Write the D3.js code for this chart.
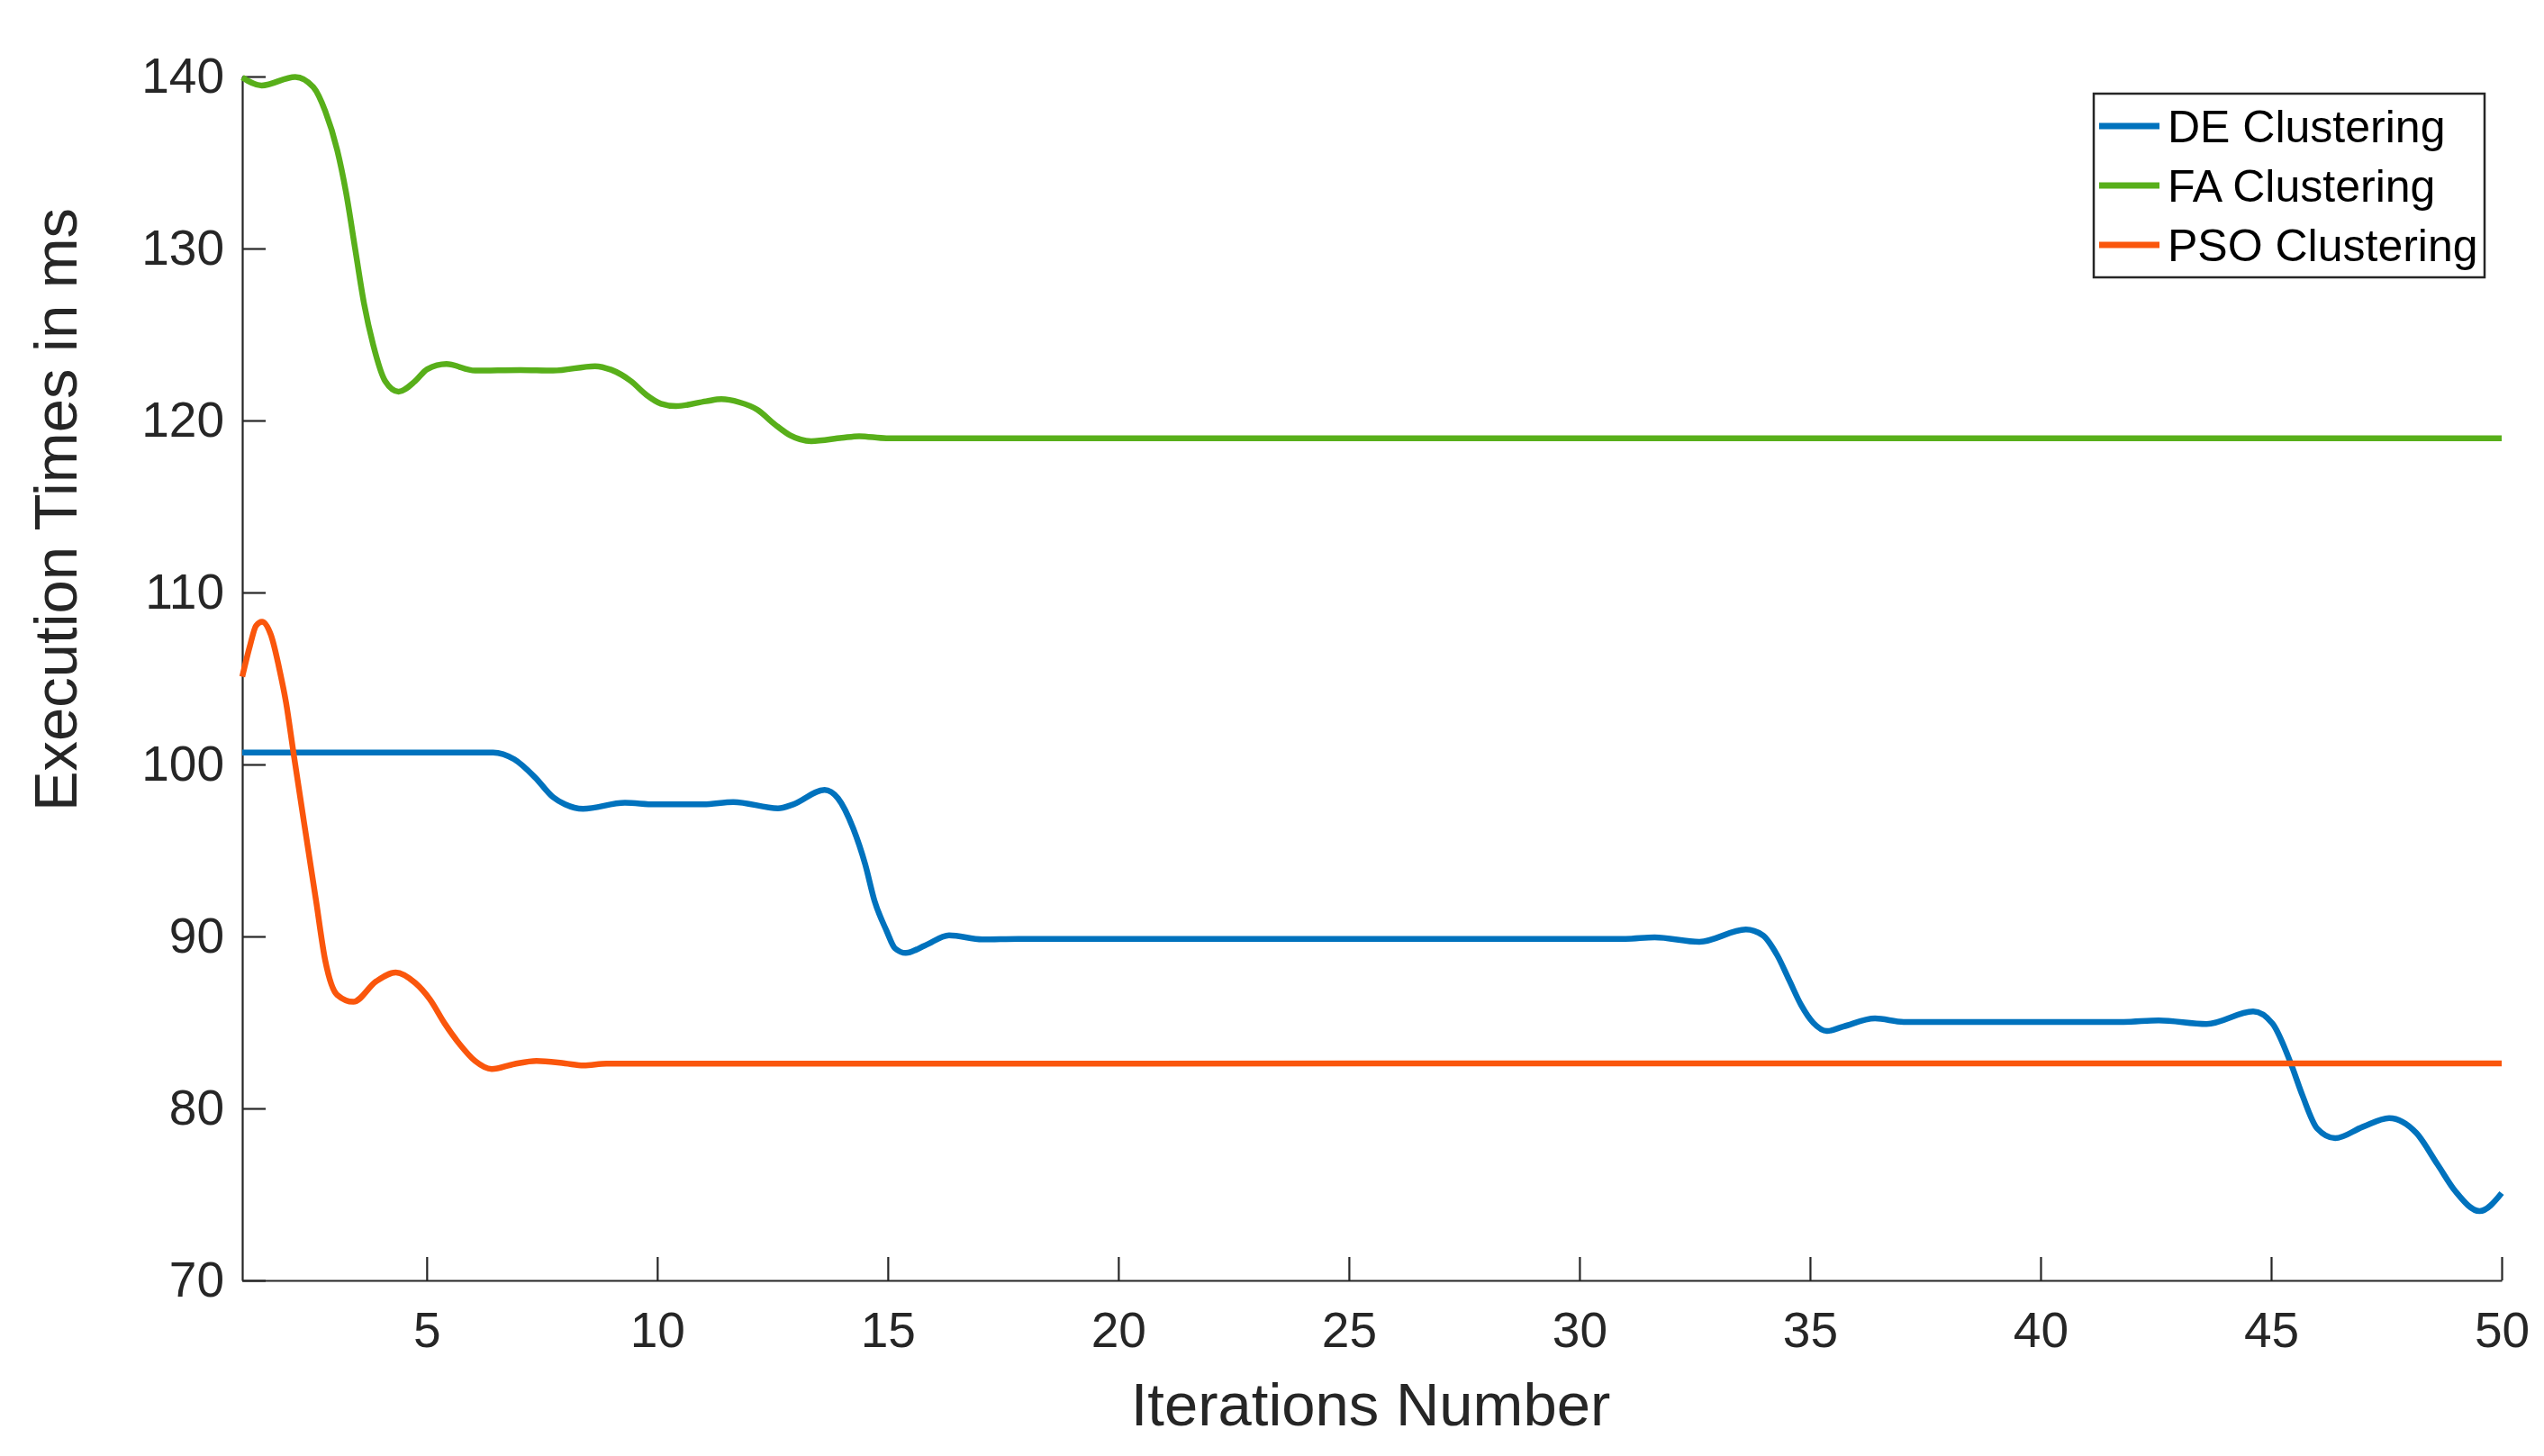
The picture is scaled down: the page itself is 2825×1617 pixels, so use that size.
<!DOCTYPE html>
<html>
<head>
<meta charset="utf-8">
<script src="https://cdn.jsdelivr.net/npm/d3@7/dist/d3.min.js"></script>
<style>
  body { margin: 0; background: #ffffff; }
  svg { display: block; }
  text { font-family: "Liberation Sans", Arial, Helvetica, sans-serif; }
</style>
</head>
<body>
<svg id="chart" width="2825" height="1617"></svg>
<script>
// ---------------- data ----------------
const seriesNames  = ["DE Clustering", "FA Clustering", "PSO Clustering"];
const seriesColors = ["#0072BD", "#58AF1A", "#FA560C"];

const deIter = [1, 6.44, 6.9, 7.35, 7.74, 8.0, 8.39, 9.3, 9.95, 11.0, 11.65, 12.62, 12.95, 13.63, 13.92,
  14.25, 14.51, 14.71, 14.97, 15.16, 15.39, 15.81, 16.33, 17.05, 17.83, 31.0, 31.63, 32.6, 33.61, 33.97,
  34.29, 34.55, 34.81, 35.07, 35.37, 35.72, 36.41, 37.03, 41.8, 42.56, 43.6, 44.61, 45.03, 45.42,
  45.68, 46.0, 46.39, 46.98, 47.56, 48.15, 48.61, 49.0, 49.52, 50];
const deTime = [100.7, 100.7, 100.3, 99.25, 98.1, 97.68, 97.42, 97.77, 97.68, 97.68, 97.82, 97.45, 97.68, 98.52, 98.03,
  96.28, 94.19, 92.09, 90.35, 89.3, 89.04, 89.48, 90.07, 89.83, 89.86, 89.86, 89.95, 89.69, 90.4, 90.08,
  88.9, 87.45, 86.0, 84.98, 84.5, 84.76, 85.23, 85.03, 85.03, 85.12, 84.91, 85.64, 84.93, 82.67,
  80.75, 78.83, 78.27, 78.92, 79.44, 78.57, 76.74, 75.17, 74.03, 75.08];

const faIter = [1.0, 1.42, 2.15, 2.54, 2.8, 3.06, 3.25, 3.45, 3.64, 3.84, 4.1, 4.39, 4.75, 5.01, 5.43, 6.05,
  7.03, 7.74, 8.65, 9.0, 9.43, 9.76, 10.08, 10.41, 11.06, 11.39, 11.78, 12.17, 12.56, 12.88, 13.34,
  14.0, 14.38, 14.97, 50];
const faTime = [139.95, 139.48, 139.98, 139.39, 137.99, 135.72, 133.28, 129.96, 126.82, 124.4, 122.29, 121.68,
  122.29, 122.98, 123.28, 122.9, 122.93, 122.9, 123.16, 122.95, 122.29, 121.5, 120.98, 120.84, 121.12,
  121.24, 121.06, 120.63, 119.75, 119.14, 118.8, 118.99, 119.09, 118.97, 118.97];

const psoIter = [1.0, 1.17, 1.3, 1.43, 1.62, 1.82, 1.95, 2.11, 2.34, 2.6, 2.8, 3.06, 3.41, 3.9, 4.33, 4.75,
  5.07, 5.39, 5.72, 6.05, 6.41, 6.9, 7.38, 8.0, 8.4, 8.9, 50];
const psoTime = [105.1, 106.93, 108.07, 108.3, 107.54, 105.36, 103.6, 100.7, 96.63, 92.09, 88.6, 86.6, 86.2,
  87.38, 87.91, 87.3, 86.34, 84.94, 83.72, 82.76, 82.29, 82.58, 82.76, 82.62, 82.5, 82.6, 82.62];

const xTicks = [5, 10, 15, 20, 25, 30, 35, 40, 45, 50];
const yTicks = [70, 80, 90, 100, 110, 120, 130, 140];
const xLabel = "Iterations Number";
const yLabel = "Execution Times in ms";

// ---------------- layout ----------------
const svg = d3.select("#chart");
const plot = { left: 269, right: 2778, top: 85, bottom: 1422 };
const axisColor = "#262626";

const x = d3.scaleLinear().domain([1, 50]).range([plot.left, plot.right]);
const y = d3.scaleLinear().domain([70, 140]).range([plot.bottom, plot.top]);

// axes
const xAxis = d3.axisBottom(x).tickValues(xTicks).tickFormat(d3.format("d"))
  .tickSizeInner(-26).tickSizeOuter(0).tickPadding(35);
const yAxis = d3.axisLeft(y).tickValues(yTicks).tickFormat(d3.format("d"))
  .tickSizeInner(-26).tickSizeOuter(0).tickPadding(20);

const gx = svg.append("g").attr("transform", `translate(0,${plot.bottom})`).call(xAxis);
const gy = svg.append("g").attr("transform", `translate(${plot.left},0)`).call(yAxis);

[gx, gy].forEach(g => {
  g.select(".domain").attr("stroke", axisColor).attr("stroke-width", 2.2);
  g.selectAll(".tick line").attr("stroke", axisColor).attr("stroke-width", 2.2);
  g.selectAll(".tick text").attr("fill", axisColor)
    .style("font-size", "55px").style("font-family", "'Liberation Sans', Arial, sans-serif");
});

// series
const series = [
  { name: seriesNames[0], color: seriesColors[0], xs: deIter, ys: deTime },
  { name: seriesNames[1], color: seriesColors[1], xs: faIter, ys: faTime },
  { name: seriesNames[2], color: seriesColors[2], xs: psoIter, ys: psoTime }
];

const line = d3.line()
  .x(d => x(d[0]))
  .y(d => y(d[1]))
  .curve(d3.curveMonotoneX);

svg.append("g").selectAll("path.series")
  .data(series)
  .join("path")
  .attr("class", "series")
  .attr("fill", "none")
  .attr("stroke", d => d.color)
  .attr("stroke-width", 6.5)
  .attr("stroke-linejoin", "round")
  .attr("d", d => line(d.xs.map((v, i) => [v, d.ys[i]])));

// axis labels
svg.append("text")
  .attr("x", 1522).attr("y", 1583)
  .attr("text-anchor", "middle")
  .attr("fill", axisColor)
  .style("font-size", "67px")
  .text(xLabel);

svg.append("text")
  .attr("transform", "translate(85,566) rotate(-90)")
  .attr("text-anchor", "middle")
  .attr("fill", axisColor)
  .style("font-size", "67px")
  .text(yLabel);

// legend
const legend = svg.append("g");
legend.append("rect")
  .attr("x", 2325).attr("y", 104).attr("width", 434).attr("height", 204)
  .attr("fill", "#ffffff").attr("stroke", axisColor).attr("stroke-width", 2.5);

const rowY = [140, 206, 272];
series.forEach((s, i) => {
  legend.append("line")
    .attr("x1", 2331).attr("x2", 2398)
    .attr("y1", rowY[i]).attr("y2", rowY[i])
    .attr("stroke", s.color).attr("stroke-width", 7);
  legend.append("text")
    .attr("x", 2407).attr("y", rowY[i]).attr("dy", "0.36em")
    .attr("fill", "#000000")
    .style("font-size", "50px")
    .text(s.name);
});
</script>
</body>
</html>
